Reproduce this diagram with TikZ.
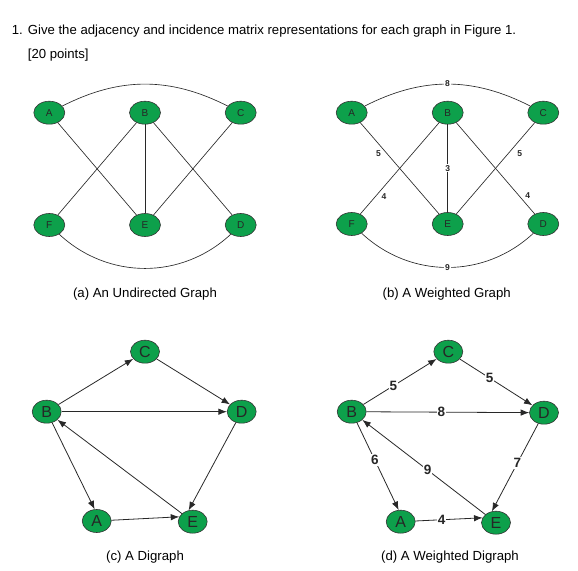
\documentclass[tikz,border=0pt]{standalone}
\usepackage{fontspec}
\setmainfont{Liberation Sans}
\usetikzlibrary{arrows.meta,shapes.geometric}
\definecolor{nodegreen}{RGB}{13,160,75}
\definecolor{edgegray}{RGB}{40,40,40}
\begin{document}
\begin{tikzpicture}[x=1pt,y=1pt,
  gnode/.style={ellipse, draw=black!80, line width=0.6pt, fill=nodegreen, minimum width=31pt, minimum height=23pt, inner sep=0pt, font=\fontsize{10}{10}\selectfont, text=black!85},
  dnode/.style={ellipse, draw=black!80, line width=0.6pt, fill=nodegreen, minimum width=29pt, minimum height=23pt, inner sep=0pt, font=\fontsize{16}{16}\selectfont, text=black!85},
  gedge/.style={draw=edgegray, line width=0.65pt},
  dedge/.style={draw=edgegray, line width=0.8pt, -{Latex[length=8.5pt,width=6.5pt]}},
  wlabel/.style={font=\bfseries\fontsize{8.5}{8.5}\selectfont, inner sep=1pt, text=black!85},
  dlabel/.style={font=\bfseries\fontsize{13.5}{13.5}\selectfont, inner sep=1pt, fill=white, text=black!85},
  capt/.style={font=\fontsize{13.2}{13.2}\selectfont},
  qtext/.style={font=\fontsize{13.15}{13.15}\selectfont, inner sep=0pt, anchor=base west}
]
\useasboundingbox (0,0) rectangle (578,570);

% question text
\node[qtext] (qnum) at (11.7,535) {1.};
\node[qtext] (qline1) at (27.7,535) {Give the adjacency and incidence matrix representations for each graph in Figure 1.};
\node[qtext] (qline2) at (27.7,511.7) {[20 points]};

% (a) undirected graph
\node[gnode] (aA) at (49.3,457.3) {A};
\node[gnode] (aB) at (145,457.3) {B};
\node[gnode] (aC) at (240.7,457.3) {C};
\node[gnode] (aF) at (49.3,345) {F};
\node[gnode] (aE) at (145,345) {E};
\node[gnode] (aD) at (240.7,345) {D};
\draw[gedge] (aA) to[out=27,in=153] (aC);
\draw[gedge] (aF) to[out=-43,in=-137] (aD);
\draw[gedge] (aA) -- (aE);
\draw[gedge] (aF) -- (aB);
\draw[gedge] (aB) -- (aE);
\draw[gedge] (aB) -- (aD);
\draw[gedge] (aC) -- (aE);
\node[capt] (capa) at (145,276) {(a) An Undirected Graph};

% (b) weighted graph
\node[gnode] (bA) at (351.7,457.3) {A};
\node[gnode] (bB) at (447.7,457.3) {B};
\node[gnode] (bC) at (543.3,457.3) {C};
\node[gnode] (bF) at (351.7,346) {F};
\node[gnode] (bE) at (447.7,346) {E};
\node[gnode] (bD) at (543.3,346) {D};
\draw[gedge] (bA) to[out=27,in=153] node[wlabel, fill=white, pos=0.5] {8} (bC);
\draw[gedge] (bF) to[out=-43,in=-137] node[wlabel, fill=white, pos=0.5] {9} (bD);
\draw[gedge] (bA) -- node[wlabel, pos=0.34, left=5pt] {5} (bE);
\draw[gedge] (bF) -- node[wlabel, pos=0.19, right=5pt] {4} (bB);
\draw[gedge] (bB) -- node[wlabel, fill=white, pos=0.5] {3} (bE);
\draw[gedge] (bB) -- node[wlabel, pos=0.8, right=5pt] {4} (bD);
\draw[gedge] (bC) -- node[wlabel, pos=0.34, right=8pt] {5} (bE);
\node[capt] (capb) at (446.7,276) {(b) A Weighted Graph};

% (c) digraph
\node[dnode] (cC) at (145,218.3) {C};
\node[dnode] (cB) at (46.7,158.3) {B};
\node[dnode] (cD) at (241.7,158.3) {D};
\node[dnode] (cA) at (96.7,49) {A};
\node[dnode] (cE) at (192.7,48.3) {E};
\draw[dedge] (cB) -- (cC);
\draw[dedge] (cC) -- (cD);
\draw[dedge] (cB) -- (cD);
\draw[dedge] (cB) -- (cA.100);
\draw[dedge] (cA) -- (cE.160);
\draw[dedge] (cD) -- (cE.110);
\draw[dedge] (cE) -- (cB);
\node[capt] (capc) at (145,13.3) {(c) A Digraph};

% (d) weighted digraph
\node[dnode] (dC) at (448.3,218.3) {C};
\node[dnode] (dB) at (351.7,158.3) {B};
\node[dnode] (dD) at (544,157.3) {D};
\node[dnode] (dA) at (400.7,48.3) {A};
\node[dnode] (dE) at (496,47.3) {E};
\draw[dedge] (dB) -- node[dlabel, pos=0.41] {5} (dC);
\draw[dedge] (dC) -- node[dlabel, pos=0.41] {5} (dD);
\draw[dedge] (dB) -- node[dlabel, pos=0.46] {8} (dD);
\draw[dedge] (dB) -- node[dlabel, pos=0.43] {6} (dA.100);
\draw[dedge] (dA) -- node[dlabel, pos=0.39] {4} (dE.160);
\draw[dedge] (dD) -- node[dlabel, pos=0.45] {7} (dE.110);
\draw[dedge] (dE) -- node[dlabel, pos=0.47] {9} (dB);
\node[capt] (capd) at (450,13.3) {(d) A Weighted Digraph};
\end{tikzpicture}
\end{document}
